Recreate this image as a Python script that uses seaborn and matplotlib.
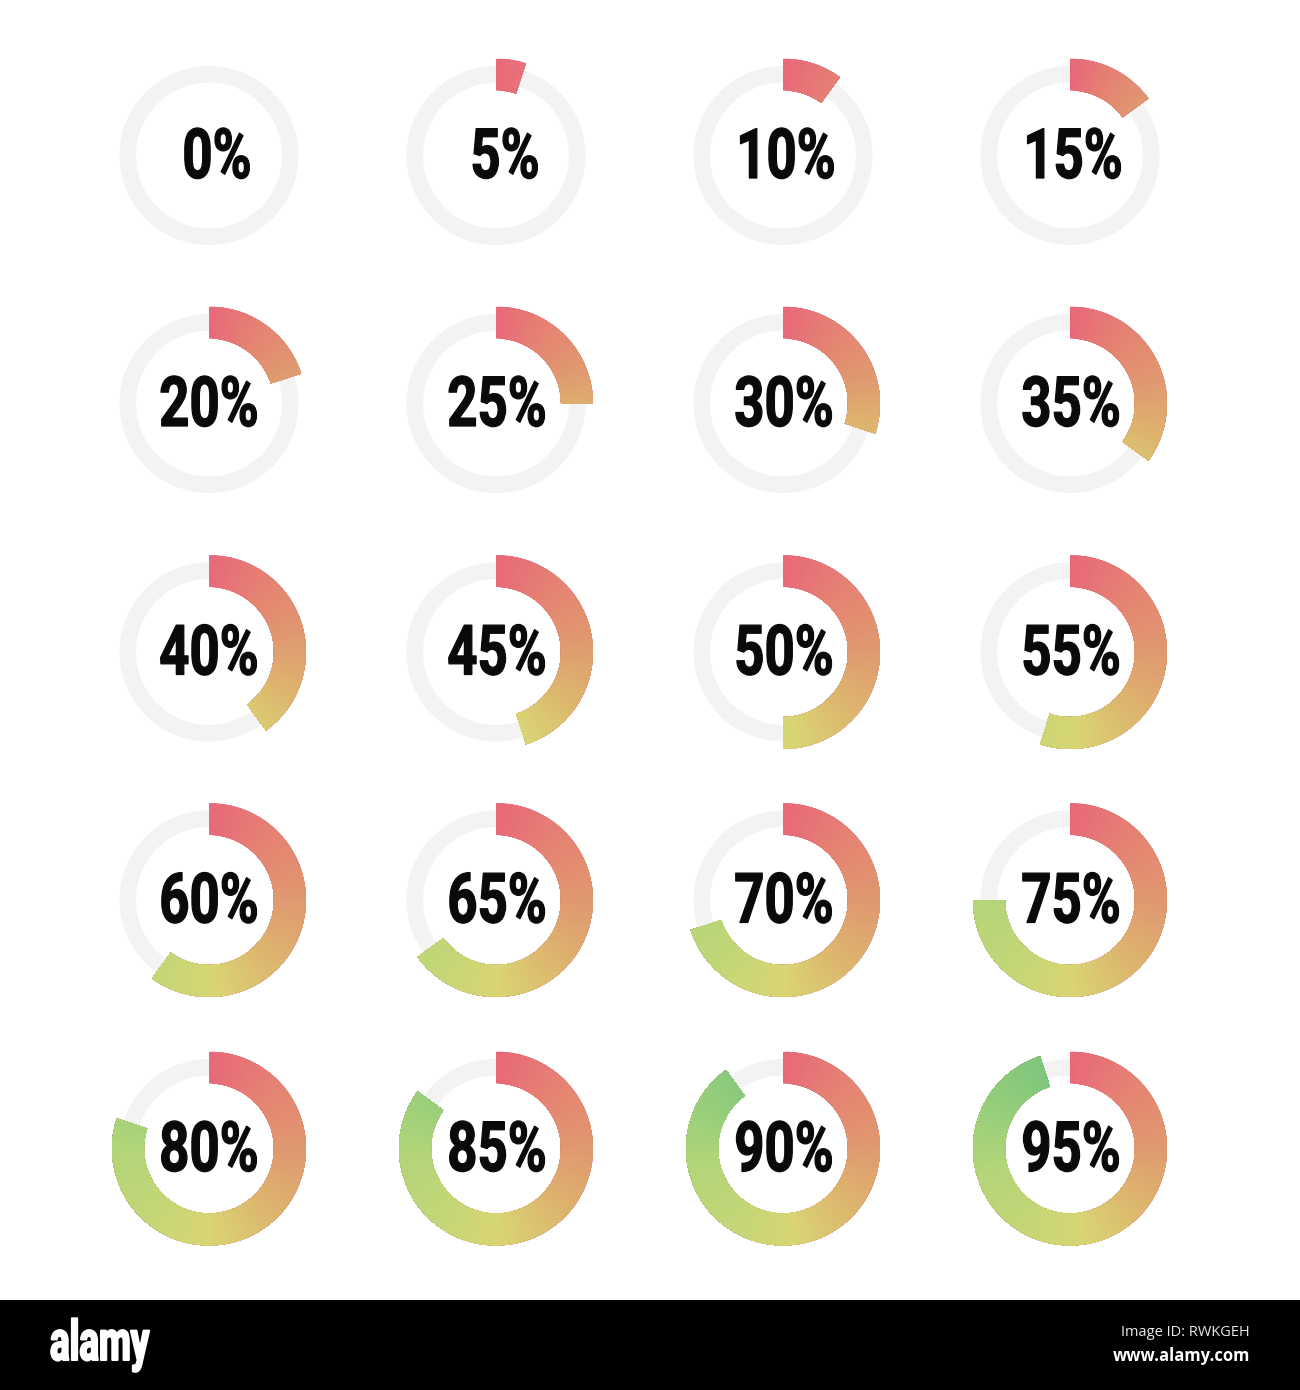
import numpy as np
import seaborn as sns
import matplotlib
matplotlib.use("Agg")
import matplotlib.pyplot as plt
from matplotlib import patheffects
from matplotlib.transforms import Affine2D

W, H = 1300, 1390

percents = [0, 5, 10, 15, 20, 25, 30, 35, 40, 45, 50, 55, 60, 65, 70, 75, 80, 85, 90, 95]
# how far along the colour ramp each ring gets at its end
ramp_ends = [0, 5, 11, 24, 27, 34, 38, 42, 46, 50, 52, 56, 61, 65, 70, 75, 80, 86, 94, 100]
# labels are not quite centred in the first row
label_shifts = [8, 9, 3, 3, 0, 1, 1, 1, 0, 1, 1, 1, 0, 1, 1, 1, 0, 1, 1, 1]
ramp_colors = ["#E8697A", "#E58372", "#E09870", "#DDB56E", "#D9D574", "#C2D677", "#B3D578", "#96CE7B", "#7FC67D"]
track_color = "#F3F3F3"

col_centers = [209, 496, 783, 1070]
row_centers = [155.5, 403.5, 652, 900, 1148.5]

sns.set_theme(style="white")
ramp = sns.blend_palette(ramp_colors, as_cmap=True)

fig = plt.figure(figsize=(W / 100, H / 100), dpi=100, facecolor="white")
R = 97


class Squeeze(patheffects.AbstractPathEffect):
    """Narrow and fatten a text around x (pixels), no condensed font is installed."""

    def __init__(self, x, sx, stroke):
        super().__init__()
        self.x = x
        self.sx = sx
        self.stroke = stroke

    def draw_path(self, renderer, gc, tpath, affine, rgbFace=None):
        squeezed = affine + Affine2D().translate(-self.x, 0).scale(self.sx, 1).translate(self.x, 0)
        gc.set_linewidth(self.stroke)
        gc.set_foreground(rgbFace)
        renderer.draw_path(gc, tpath, squeezed, rgbFace)


def draw_ring(cx, cy, pct, ramp_end, shift):
    ax = fig.add_axes([(cx - R) / W, 1 - (cy + R) / H, 2 * R / W, 2 * R / H], projection="polar")
    ax.set_theta_zero_location("N")
    ax.set_theta_direction(-1)
    ax.bar(0, 16.5, width=2 * np.pi, bottom=73, color=track_color, linewidth=0)
    if pct > 0:
        edges = np.linspace(0, pct / 100 * 2 * np.pi, pct * 2 + 1)[:-1]
        end = pct / 100 * 2 * np.pi
        pos = np.linspace(0, ramp_end / 100, len(edges))
        # every slice runs on to the arc's end and the next one paints over it, so no seams
        for left, c in zip(edges, ramp(pos)):
            ax.bar(left, 32, width=end - left, bottom=65, color=c, linewidth=0, align="edge")
    ax.set_ylim(0, R)
    ax.axis("off")
    ax.patch.set_alpha(0)
    x = cx + shift
    t = fig.text(x / W, 1 - (cy + 22.5) / H, f"{pct}%", ha="center", va="baseline",
                 family="Roboto", weight="bold", fontsize=50, color="#0a0a0a")
    t.set_path_effects([Squeeze(x, 0.76, 0.9)])


for i, pct in enumerate(percents):
    draw_ring(col_centers[i % 4], row_centers[i // 4], pct, ramp_ends[i], label_shifts[i])

# stock photo footer
footer = fig.add_axes([0, 0, 1, 90 / H])
footer.set_facecolor("black")
footer.set_xticks([])
footer.set_yticks([])
sns.despine(ax=footer, left=True, bottom=True)
logo = fig.text(50 / W, 1 - 1360 / H, "alamy", ha="left", va="baseline", family="Roboto",
                weight="bold", fontsize=40, color="white")
logo.set_path_effects([Squeeze(50, 0.66, 1.5)])
fig.text(1250 / W, 1 - 1332 / H, "Image ID: RWKGEH", ha="right", va="center", family="Open Sans",
         fontsize=10.5, color="#e8e8e8")
fig.text(1250 / W, 1 - 1356 / H, "www.alamy.com", ha="right", va="center", family="Open Sans",
         weight="bold", fontsize=12, color="white")

fig.savefig("out.png", dpi=100, facecolor="white")
